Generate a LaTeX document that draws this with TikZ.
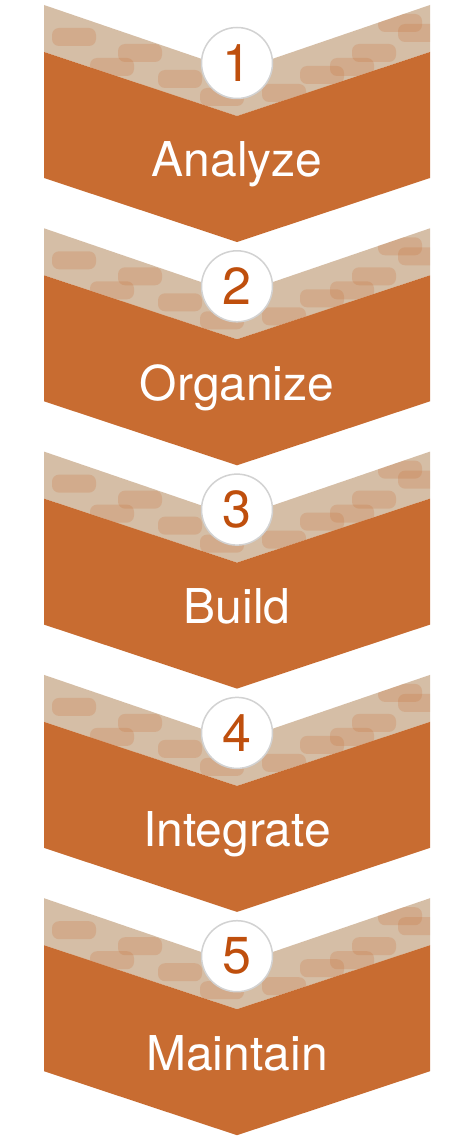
\documentclass[tikz,border=0pt]{standalone}
\usepackage{fontspec}
\setmainfont{TeX Gyre Heros}
\usetikzlibrary{positioning}

\definecolor{brick}{HTML}{C86C31}
\definecolor{mortar}{HTML}{D5BEA6}
\definecolor{numcolor}{HTML}{BF4F0D}
\definecolor{ringgray}{HTML}{D2D2D2}

\begin{document}
\begin{tikzpicture}[x=1pt,y=-1pt,
      bandpart/.style={fill=mortar},
      bodypart/.style={fill=brick},
      brickpatch/.style={fill=brick,opacity=0.22,rounded corners=7pt},
      stepnum/.style={circle,fill=white,draw=ringgray,line width=1.5pt,minimum size=71pt,inner sep=0pt,
        text=numcolor,font=\fontsize{52}{52}\selectfont},
      steplabel/.style={text=white,anchor=base,inner sep=0pt,font=\fontsize{48}{48}\selectfont}]
    % Canvas
    \useasboundingbox[fill=white] (0,0) rectangle (474,1142);

    % Chevrons
    \foreach \i/\txt in {1/Analyze,2/Organize,3/Build,4/Integrate,5/Maintain}{
      \pgfmathsetmacro\yo{(\i-1)*223.3}
      \fill[bandpart] (44,{5+\yo}) -- (237,{71+\yo}) -- (430,{5+\yo}) -- (430,{52+\yo}) -- (237,{116+\yo}) -- (44,{52+\yo}) -- cycle;
      \begin{scope}
        \clip (44,{5+\yo}) -- (237,{71+\yo}) -- (430,{5+\yo}) -- (430,{52+\yo}) -- (237,{116+\yo}) -- (44,{52+\yo}) -- cycle;
        \foreach \bx/\by in {52/28,118/44,158/70,200/88,262/84,300/66,352/44,398/24,90/58,330/58,378/14}
          \fill[brickpatch] (\bx,{\by+\yo}) rectangle ++(44,18);
      \end{scope}
      \fill[bodypart] (44,{52+\yo}) -- (237,{116+\yo}) -- (430,{52+\yo}) -- (430,{178+\yo}) -- (237,{242+\yo}) -- (44,{178+\yo}) -- cycle;

      % Number and label
      \node[stepnum]   (num\i)   at (237,{63+\yo})  {\i};
      \node[steplabel] (label\i) at (237,{177+\yo}) {\txt};
    }

  \end{tikzpicture}
\end{document}
